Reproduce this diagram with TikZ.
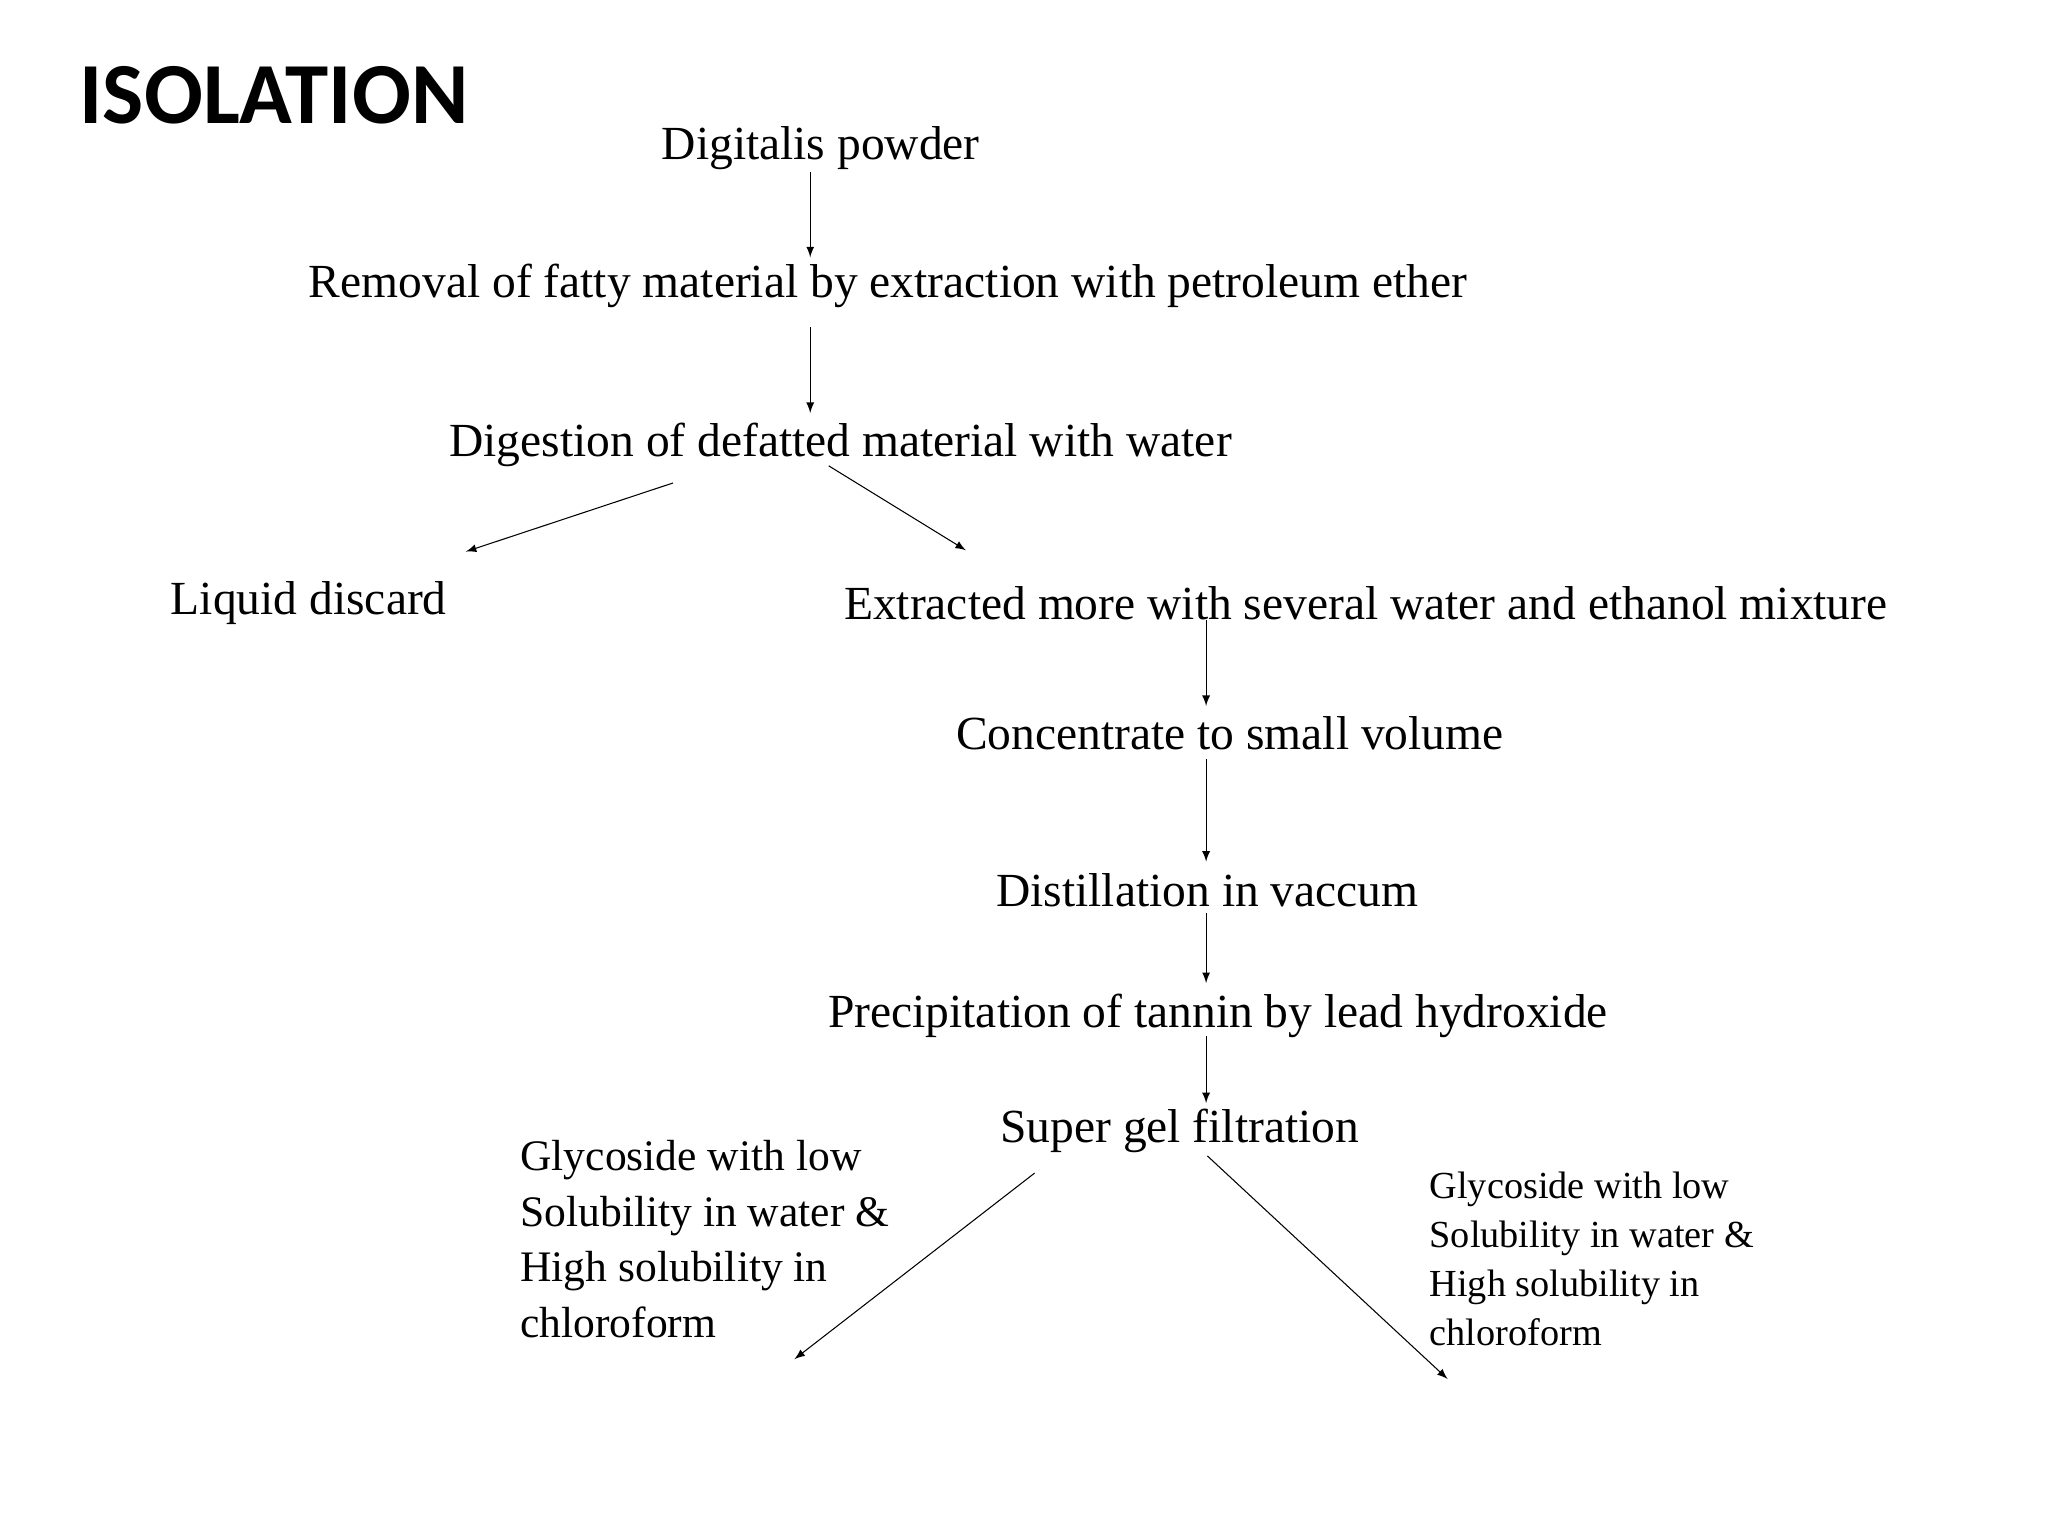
\documentclass[tikz,border=0pt]{standalone}
\usepackage{fontspec}
\setmainfont{Liberation Serif}
\newfontfamily\titlefont{Carlito}
\begin{document}
\begin{tikzpicture}[x=0.5pt,y=-0.5pt,
  lbl/.style={inner sep=0pt,font=\fontsize{18}{21}\selectfont},
  arr/.style={-latex,thin}]
\useasboundingbox (0,0) rectangle (1552,1164);
\node[anchor=west,inner sep=0pt,font=\titlefont\bfseries\fontsize{33}{40}\selectfont] (t) at (60,72) {ISOLATION};
\node[lbl] (a) at (622,112) {Digitalis powder};
\node[lbl] (b) at (673,217) {Removal of fatty material by extraction with petroleum ether};
\node[lbl] (c) at (637,337) {Digestion of defatted material with water};
\node[lbl] (d) at (234,457) {Liquid discard};
\node[lbl] (e) at (1035,457) {Extracted more with several water and ethanol mixture};
\node[lbl] (f) at (932,556) {Concentrate to small volume};
\node[lbl] (g) at (915,675) {Distillation in vaccum};
\node[lbl] (h) at (923,770) {Precipitation of tannin by lead hydroxide};
\node[lbl] (i) at (894,857) {Super gel filtration};
\node[anchor=north west,inner sep=0pt,align=left,font=\fontsize{16.5}{21}\selectfont] (j) at (394,864) {Glycoside with low\\Solubility in water \&\\High solubility in\\chloroform};
\node[anchor=north west,inner sep=0pt,align=left,font=\fontsize{14.5}{18.5}\selectfont] (k) at (1083,888) {Glycoside with low\\Solubility in water \&\\High solubility in\\chloroform};
\foreach \n/\x/\y in {a1/614/130,a2/614/195,b1/614/248,b2/614/313,c1/510/366,c2/353/418,c3/628/353,c4/732/417,
  e1/914/470,e2/914/535,f1/914/575,f2/914/653,g1/914/692,g2/914/745,h1/914/785,h2/914/836,
  i1/784/889,i2/602/1030,i3/915/876,i4/1097/1045}
  \coordinate (\n) at (\x,\y);
\draw[arr] (a1)--(a2);
\draw[arr] (b1)--(b2);
\draw[arr] (c1)--(c2);
\draw[arr] (c3)--(c4);
\draw[arr] (e1)--(e2);
\draw[arr] (f1)--(f2);
\draw[arr] (g1)--(g2);
\draw[arr] (h1)--(h2);
\draw[arr] (i1)--(i2);
\draw[arr] (i3)--(i4);
\end{tikzpicture}
\end{document}
